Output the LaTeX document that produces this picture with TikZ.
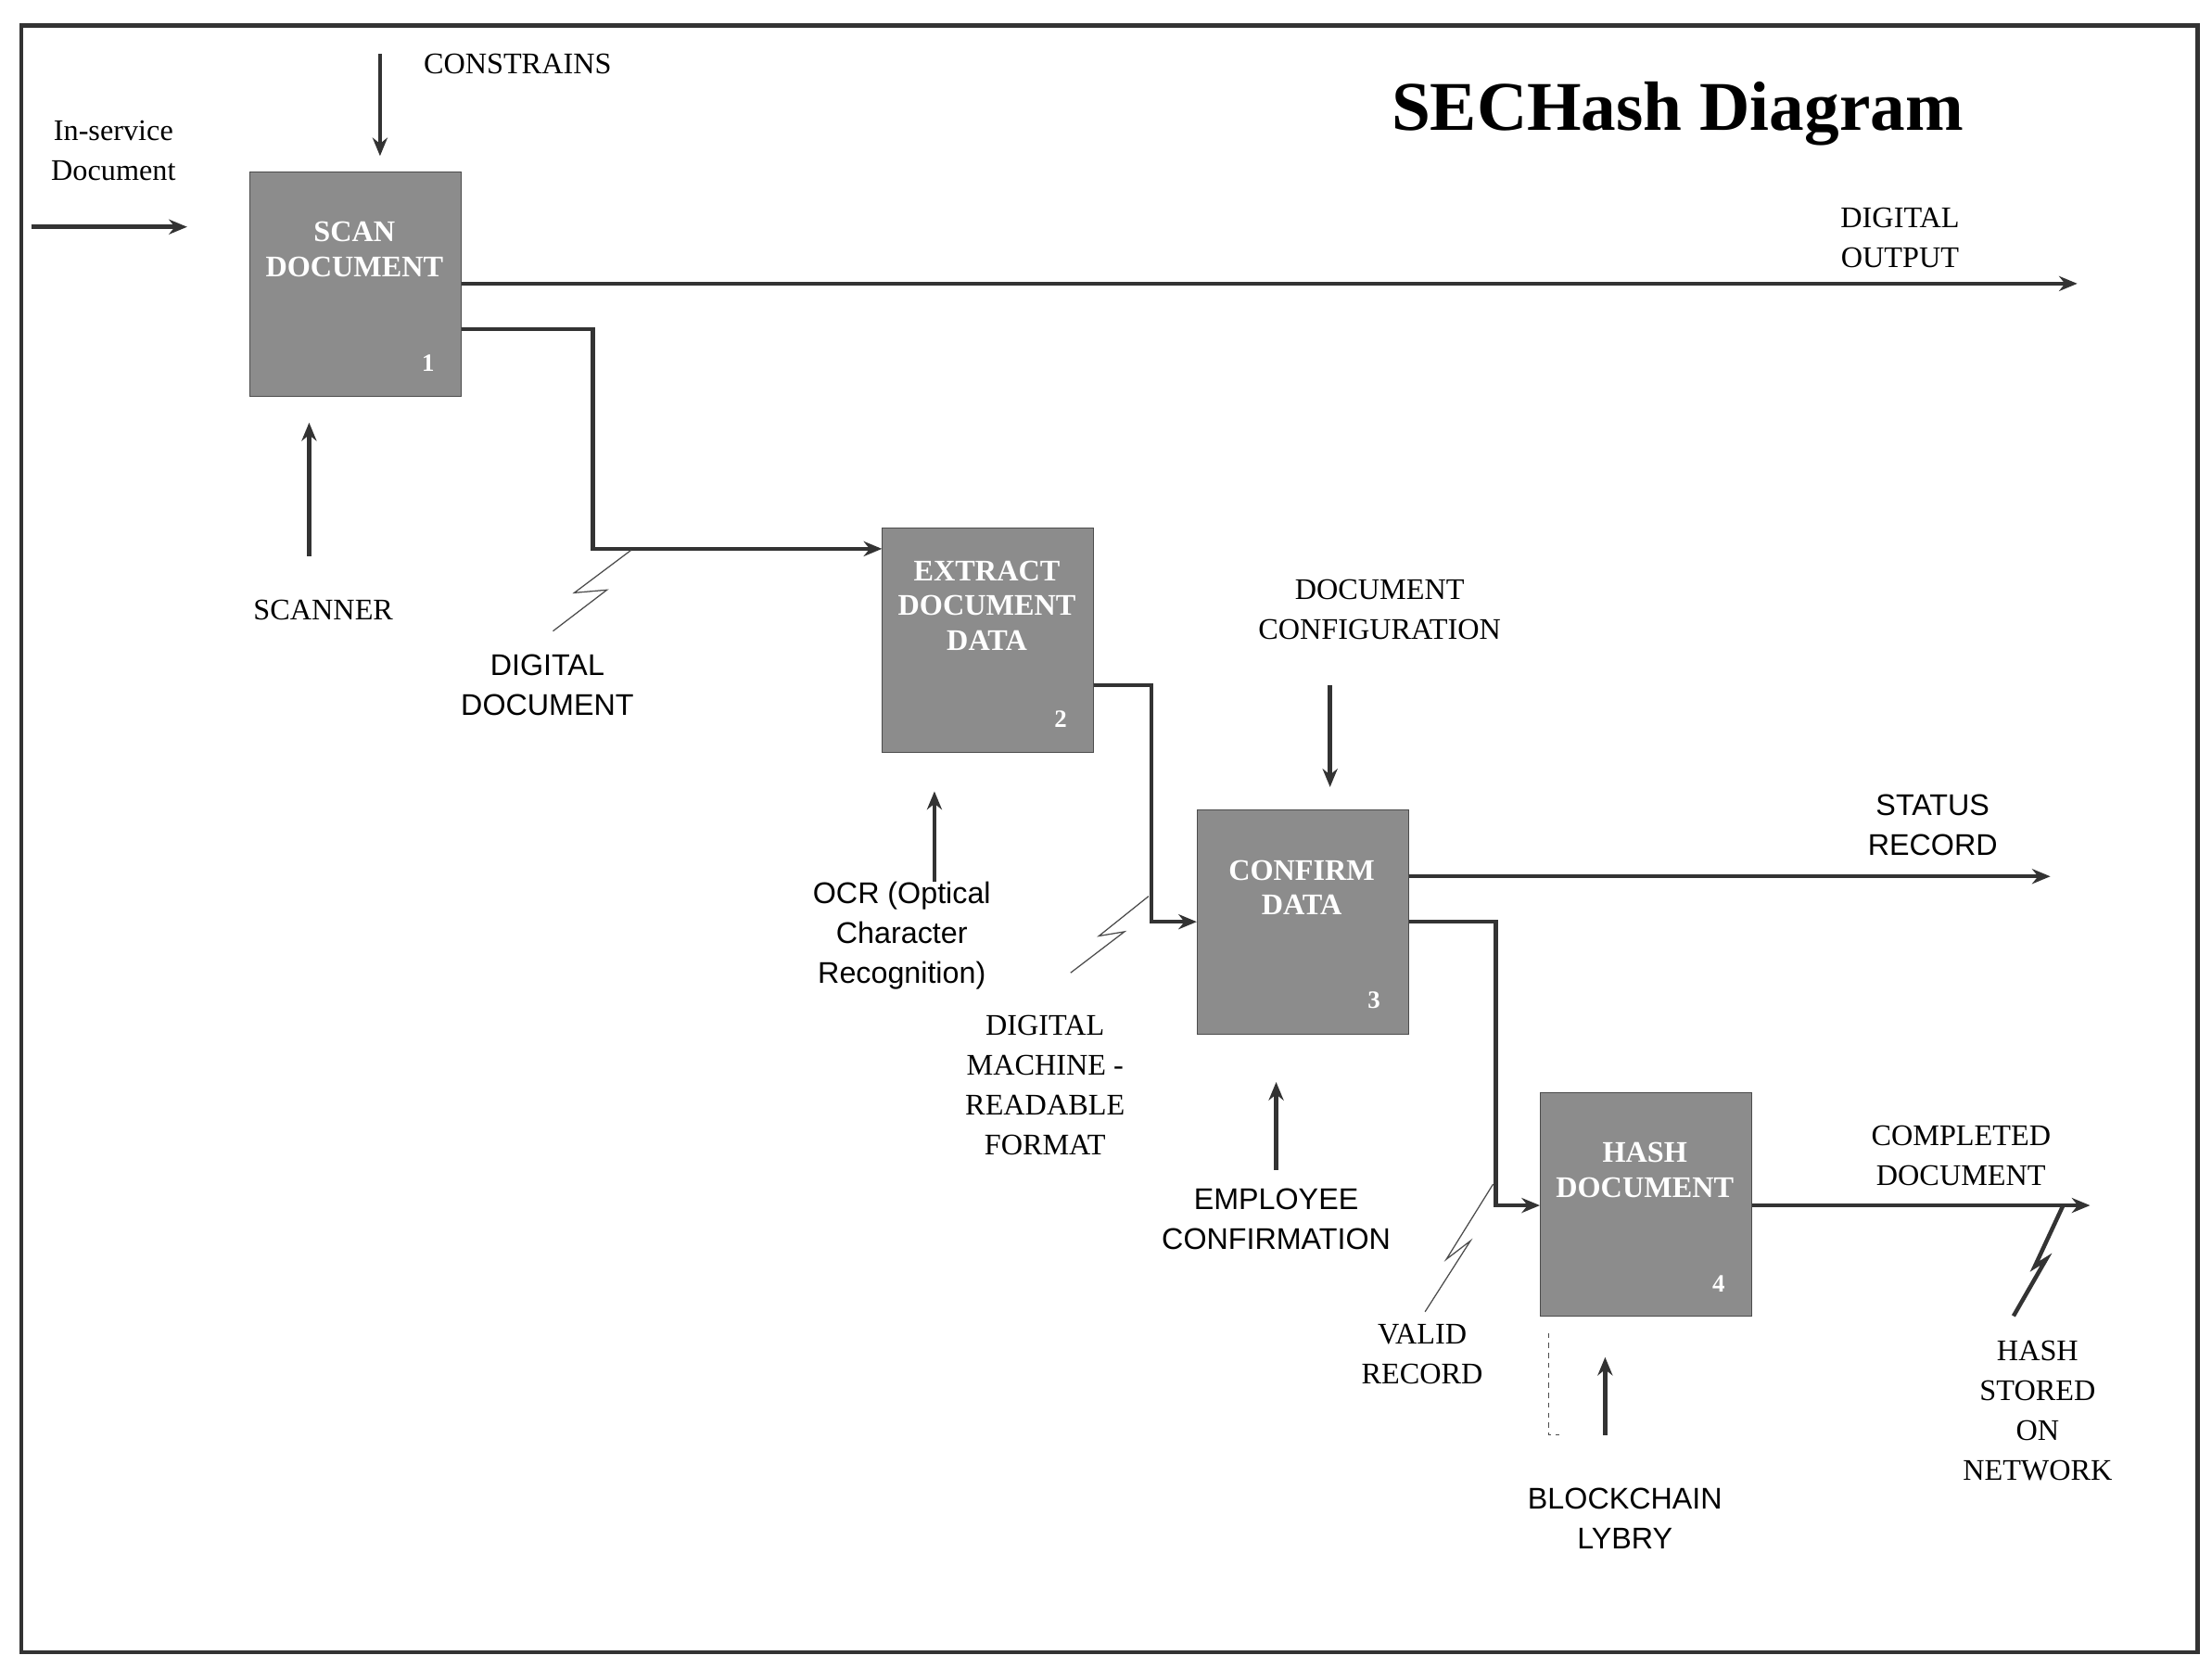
\documentclass[tikz,border=0pt]{standalone}
\usepackage{fontspec}
\setmainfont{Liberation Serif}
\newfontfamily\labsans{Liberation Sans}
\usetikzlibrary{arrows.meta,positioning}

\begin{document}
\begin{tikzpicture}[x=0.03cm,y=-0.03cm,
  box/.style={rectangle,draw=black!70,fill=black!45,minimum width=4.47cm,minimum height=4.74cm,anchor=north west},
  boxtext/.style={text=white,font=\fontsize{18}{21}\selectfont\bfseries,align=center},
  num/.style={text=white,font=\fontsize{15}{18}\selectfont\bfseries},
  lab/.style={font=\fontsize{18}{24}\selectfont,align=center},
  slab/.style={font=\labsans\fontsize{18}{24}\selectfont,align=center},
  flow/.style={line width=2.5pt,draw=black!80,-{Stealth[length=11pt,width=9pt]}},
  bolt/.style={draw=black!70,line width=0.7pt},
]
\useasboundingbox (0,0) rectangle (1560,1176);
\draw[line width=2.5pt,black!80] (15,18) rectangle (1550,1165);
\node[font=\fontsize{42}{48}\selectfont\bfseries] (title) at (1183,80) {SECHash Diagram};

% activity boxes
\node[box] (scan) at (176,121) {};
\node[box] (extract) at (622,372) {};
\node[box] (confirm) at (844,571) {};
\node[box] (hash) at (1086,770) {};
\node[boxtext] at (250,176) {SCAN\\DOCUMENT};
\node[boxtext] at (696,427) {EXTRACT\\DOCUMENT\\DATA};
\node[boxtext] at (918,626) {CONFIRM\\DATA};
\node[boxtext] at (1160,825) {HASH\\DOCUMENT};
\node[num] at (302,256) {1};
\node[num] at (748,507) {2};
\node[num] at (969,705) {3};
\node[num] at (1212,905) {4};

% free ends
\coordinate (inA) at (22,160);   \coordinate (inB) at (132,160);
\coordinate (conA) at (268,38);  \coordinate (conB) at (268,110);
\coordinate (scnA) at (218,392); \coordinate (scnB) at (218,298);
\coordinate (outB) at (1465,200);
\coordinate (cfgA) at (938,483); \coordinate (cfgB) at (938,555);
\coordinate (ocrA) at (659,622); \coordinate (ocrB) at (659,558);
\coordinate (stB) at (1446,618);
\coordinate (empA) at (900,825); \coordinate (empB) at (900,763);
\coordinate (cmpB) at (1474,850);
\coordinate (bcA) at (1132,1012); \coordinate (bcB) at (1132,957);

\draw[flow] (inA) -- (inB);
\draw[flow] (conA) -- (conB);
\draw[flow] (scnA) -- (scnB);
\draw[flow] (scan.east |- 0,200) -- (outB);
\draw[flow] (scan.east |- 0,232) -- (418,232) -- (418,387) -- (extract.west |- 0,387);
\draw[flow] (extract.east |- 0,483) -- (812,483) -- (812,650) -- (confirm.west |- 0,650);
\draw[flow] (cfgA) -- (cfgB);
\draw[flow] (ocrA) -- (ocrB);
\draw[flow] (confirm.east |- 0,618) -- (stB);
\draw[flow] (confirm.east |- 0,650) -- (1055,650) -- (1055,850) -- (hash.west |- 0,850);
\draw[flow] (empA) -- (empB);
\draw[flow] (hash.east |- 0,850) -- (cmpB);
\draw[flow] (bcA) -- (bcB);
\draw[black!70,dashed,line width=0.7pt] (1092,940) -- (1092,1012) -- (1100,1012);

% squiggles
\draw[bolt] (445,388) -- (405,418) -- (428,416) -- (390,445);
\draw[bolt] (810,632) -- (775,660) -- (793,657) -- (755,686);
\draw[bolt] (1053,835) -- (1020,888) -- (1037,875) -- (1005,925);
\draw[line width=2.5pt,black!80] (1455,850) -- (1435,893) -- (1443,888) -- (1420,928);

% labels
\node[lab] at (80,106) {In-service\\Document};
\node[lab] at (365,45) {CONSTRAINS};
\node[lab] at (228,430) {SCANNER};
\node[slab] at (386,483) {DIGITAL\\DOCUMENT};
\node[lab] at (1340,168) {DIGITAL\\OUTPUT};
\node[lab] at (973,430) {DOCUMENT\\CONFIGURATION};
\node[slab] at (636,660) {OCR (Optical\\Character\\Recognition)};
\node[lab] at (737,765) {DIGITAL\\MACHINE -\\READABLE\\FORMAT};
\node[slab] at (1363,582) {STATUS\\RECORD};
\node[slab] at (900,860) {EMPLOYEE\\CONFIRMATION};
\node[lab] at (1383,815) {COMPLETED\\DOCUMENT};
\node[lab] at (1003,955) {VALID\\RECORD};
\node[lab] at (1437,995) {HASH\\STORED\\ON\\NETWORK};
\node[slab] at (1146,1071) {BLOCKCHAIN\\LYBRY};
\end{tikzpicture}
\end{document}
